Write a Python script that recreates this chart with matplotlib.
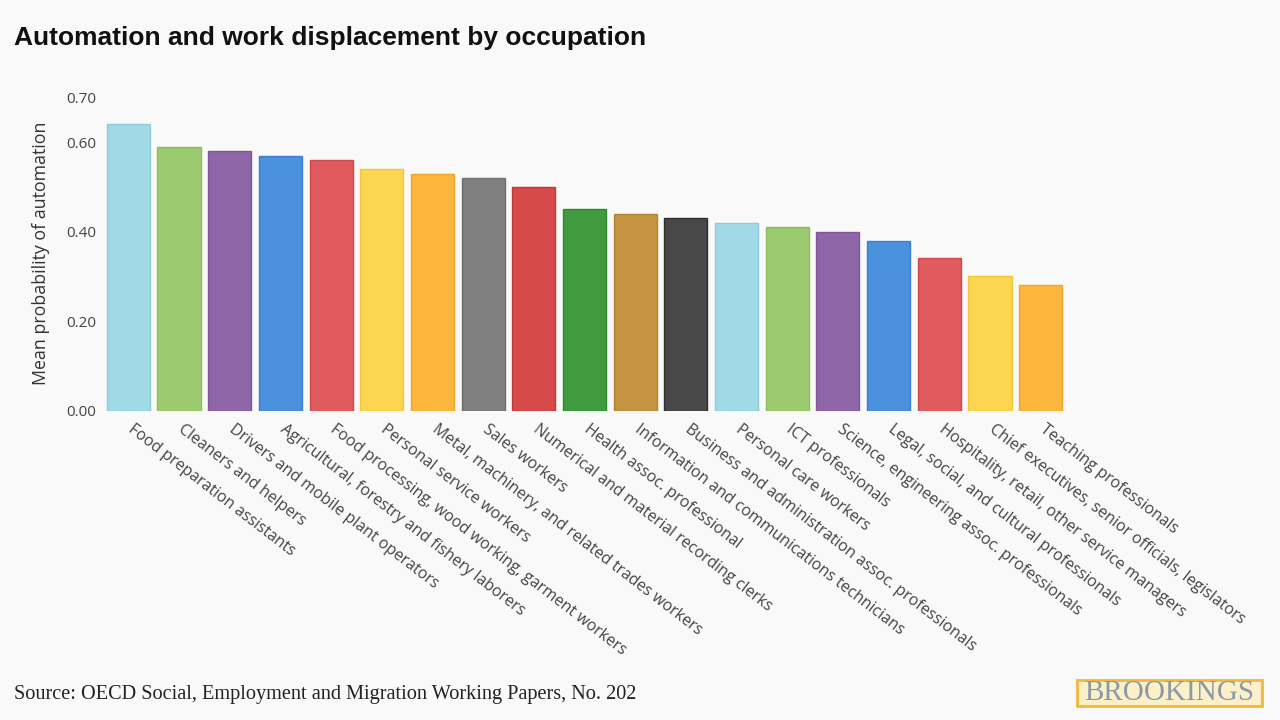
import matplotlib
matplotlib.use("Agg")
import matplotlib.pyplot as plt
from matplotlib.patches import FancyBboxPatch
from matplotlib.transforms import ScaledTranslation

categories = [
    "Food preparation assistants",
    "Cleaners and helpers",
    "Drivers and mobile plant operators",
    "Agricultural, forestry and fishery laborers",
    "Food processing, wood working, garment workers",
    "Personal service workers",
    "Metal, machinery, and related trades workers",
    "Sales workers",
    "Numerical and material recording clerks",
    "Health assoc. professional",
    "Information and communications technicians",
    "Business and administration assoc. professionals",
    "Personal care workers",
    "ICT professionals",
    "Science, engineering assoc. professionals",
    "Legal, social, and cultural professionals",
    "Hospitality, retail, other service managers",
    "Chief executives, senior officials, legislators",
    "Teaching professionals",
]
values = [0.64, 0.59, 0.58, 0.57, 0.56, 0.54, 0.53, 0.52, 0.50, 0.45,
          0.44, 0.43, 0.42, 0.41, 0.40, 0.38, 0.34, 0.30, 0.28]
colors = ["#a0dae6", "#9cca6e", "#8f66a8", "#4a90dc", "#e15a5d", "#fdd651",
          "#fdb73c", "#808080", "#d64a4a", "#3f9b3d", "#c59440", "#484848",
          "#a0dae6", "#9cca6e", "#8f66a8", "#4a90dc", "#e15a5d", "#fdd651",
          "#fdb73c"]
edge_colors = ["#8ccbd8", "#8cbd5e", "#7f5898", "#3c80cc", "#d04a4d", "#f0c640",
               "#f0a62c", "#6f6f6f", "#c43a3a", "#2f8a2d", "#b48330", "#2e2e2e",
               "#8ccbd8", "#8cbd5e", "#7f5898", "#3c80cc", "#d04a4d", "#f0c640",
               "#f0a62c"]
yticks = [0.00, 0.20, 0.40, 0.60, 0.70]
ytick_labels = ["0.00", "0.20", "0.40", "0.60", "0.70"]

W, H = 1280, 720
bg = "#f9f9f9"
fig = plt.figure(figsize=(W / 100, H / 100), dpi=100, facecolor=bg)

left_px, right_px = 103, 1066
top_px, bottom_px = 97.5, 410.5
ax = fig.add_axes([left_px / W, 1 - bottom_px / H,
                   (right_px - left_px) / W, (bottom_px - top_px) / H])
ax.set_facecolor(bg)

x = list(range(len(categories)))
ax.bar(x, values, width=0.85, color=colors, edgecolor=edge_colors, linewidth=1.0)
ax.set_xlim(-0.5, len(categories) - 0.5)
ax.set_ylim(0, 0.70)

for s in ax.spines.values():
    s.set_visible(False)

ax.set_yticks(yticks)
ax.set_yticklabels(ytick_labels, fontsize=11, color="#444444", family="Open Sans")
ax.tick_params(axis="y", length=0, pad=5)

ax.set_xticks(x)
ax.set_xticklabels(categories, rotation=-37.5, ha="left", va="top",
                   rotation_mode="anchor", fontsize=11.4, color="#444444",
                   family="Open Sans")
ax.tick_params(axis="x", length=0, pad=8)
off = ScaledTranslation(6 / 100, 0, fig.dpi_scale_trans)
for lbl in ax.get_xticklabels():
    lbl.set_transform(lbl.get_transform() + off)

fig.text(41 / W, 1 - 253 / H, "Mean probability of automation", rotation=90,
         ha="center", va="center", fontsize=12.8, color="#333333", family="Open Sans")

fig.text(14 / W, 1 - 38 / H, "Automation and work displacement by occupation",
         ha="left", va="center", fontsize=19, fontweight="bold", color="#111111",
         family="Liberation Sans")

fig.text(14 / W, 1 - 695 / H,
         "Source: OECD Social, Employment and Migration Working Papers, No. 202",
         ha="left", va="center", fontsize=14.6, color="#222222", family="Liberation Serif")

# BROOKINGS logo
fig.patches.append(FancyBboxPatch((1077 / W, 1 - 706 / H), 185 / W, 26 / H,
                                  boxstyle="square,pad=0", transform=fig.transFigure,
                                  facecolor="#fbf0c8", edgecolor="#f2b83a", linewidth=2))
fig.text(1169 / W, 1 - 693 / H, "BROOKINGS", ha="center", va="center",
         fontsize=21, color="#8a9aa6", family="Liberation Serif",
         fontstretch="condensed")

fig.savefig("out.png", dpi=100, facecolor=bg)
